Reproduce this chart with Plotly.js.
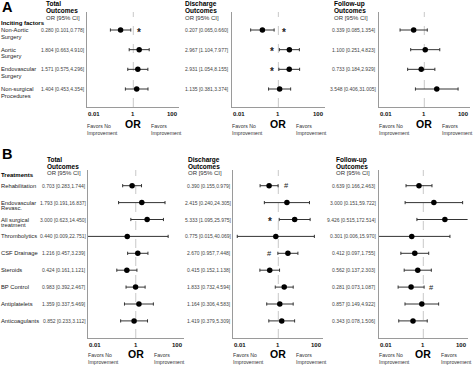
<!DOCTYPE html>
<html><head><meta charset="utf-8">
<script src="https://cdn.plot.ly/plotly-3.0.1.min.js"></script>
<style>html,body{margin:0;padding:0;background:#fff}#chart{width:474px;height:366px}</style>
</head><body><div id="chart"></div>
<script>
// ---------- DATA ----------
const factorsA = ["Non-Aortic<br>Surgery","Aortic<br>Surgery","Endovascular<br>Surgery","Non-surgical<br>Procedures"];
const totalA_or = [0.280,1.804,1.571,1.404];
const totalA_lo = [0.101,0.663,0.575,0.453];
const totalA_hi = [0.778,4.910,4.296,4.354];
const dischA_or = [0.207,2.967,2.931,1.135];
const dischA_lo = [0.065,1.104,1.054,0.381];
const dischA_hi = [0.660,7.977,8.155,3.374];
const follA_or  = [0.339,1.100,0.733,3.548];
const follA_lo  = [0.085,0.251,0.184,0.406];
const follA_hi  = [1.354,4.823,2.929,31.005];
const totalA_sig = ["*","","",""];
const dischA_sig = ["*","*","*",""];
const follA_sig  = ["","","",""];

const treatmentsB = ["Rehabilitation","Endovascular<br>Revasc.","All surgical<br>treatment","Thrombolytics","CSF Drainage","Steroids","BP Control","Antiplatelets","Anticoagulants"];
const totalB_or = [0.703,1.793,3.000,0.440,1.216,0.424,0.983,1.359,0.852];
const totalB_lo = [0.283,0.191,0.623,0.009,0.457,0.161,0.392,0.337,0.233];
const totalB_hi = [1.744,16.837,14.450,22.751,3.239,1.121,2.467,5.469,3.112];
const dischB_or = [0.390,2.415,5.333,0.775,2.670,0.415,1.833,1.164,1.419];
const dischB_lo = [0.155,0.240,1.095,0.015,0.957,0.152,0.732,0.306,0.379];
const dischB_hi = [0.979,24.305,25.975,40.069,7.448,1.138,4.594,4.583,5.309];
const follB_or  = [0.639,3.000,9.426,0.301,0.412,0.562,0.281,0.857,0.343];
const follB_lo  = [0.166,0.151,0.515,0.006,0.097,0.137,0.073,0.149,0.078];
const follB_hi  = [2.463,59.722,172.514,15.970,1.755,2.303,1.087,4.922,1.506];
const totalB_sig = ["","","","","","","","",""];
const dischB_sig = ["#","","*","","#","","","",""];
const follB_sig  = ["","","","","","","#","",""];

const columnTitles = [["Total","Outcomes"],["Discharge","Outcomes"],["Follow-up","Outcomes"]];
const ciHeader = "OR [95% CI]";
const tickVals = [0.01,1,100];
const tickText = ["0.01","1","100"];
const panelLetters = ["A","B"];
const groupTitles = ["Inciting factors","Treatments"];

// ---------- LAYOUT GEOMETRY ----------
const W=474,H=366;
const px=p=>p/W, py=p=>1-p/H;
const FONT="Arial, 'Liberation Sans', sans-serif";

const panels = [
  { letter:panelLetters[0], letterY:7.2, group:groupTitles[0], groupY:23.3,
    labels:factorsA, top:12, bottom:107, rowTop:30, rowStep:19.67, line2:6.7,
    headY:[3.8,10.5,17.5], tickY:114, favY:126, orY:124, sigShift:6,
    plots:[
      {or:totalA_or, lo:totalA_lo, hi:totalA_hi, sig:totalA_sig, x0:87.3, x1:179.3, txtR:86, headX:45},
      {or:dischA_or, lo:dischA_lo, hi:dischA_hi, sig:dischA_sig, x0:231.7, x1:325, txtR:230, headX:184},
      {or:follA_or,  lo:follA_lo,  hi:follA_hi,  sig:follA_sig,  x0:379, x1:469.6, txtR:377, headX:333}
    ]},
  { letter:panelLetters[1], letterY:154, group:groupTitles[1], groupY:175,
    labels:treatmentsB, top:170, bottom:338, rowTop:185.7, rowStep:16.9, line2:5.4,
    headY:[159.5,166,172.5], tickY:345, favY:355, orY:354, sigShift:8.5,
    plots:[
      {or:totalB_or, lo:totalB_lo, hi:totalB_hi, sig:totalB_sig, x0:88, x1:183.5, txtR:86.5, headX:46},
      {or:dischB_or, lo:dischB_lo, hi:dischB_hi, sig:dischB_sig, x0:233.3, x1:323.3, txtR:231.5, headX:187},
      {or:follB_or,  lo:follB_lo,  hi:follB_hi,  sig:follB_sig,  x0:379, x1:467.6, txtR:376.5, headX:335}
    ]}
];

const traces=[], annotations=[], shapes=[];
const layout = {
  width:W, height:H, margin:{l:0,r:0,t:0,b:0},
  paper_bgcolor:'#fff', plot_bgcolor:'rgba(0,0,0,0)',
  showlegend:false, font:{family:FONT, color:'#222'},
  annotations, shapes
};
function ann(o){ annotations.push(Object.assign({showarrow:false, xanchor:'center', yanchor:'middle', borderpad:0, font:{family:FONT,size:6,color:'#222'}}, o)); }

let k=0;
panels.forEach(P=>{
  const n=P.labels.length;
  const tpad=(P.rowTop-P.top)/P.rowStep;
  const bpad=(P.bottom-(P.rowTop+(n-1)*P.rowStep))/P.rowStep;
  ann({text:'<b>'+P.letter+'</b>', xref:'paper', yref:'paper', x:px(0.5), y:py(P.letterY), xanchor:'left', font:{family:FONT,size:14.5,color:'#000'}});
  ann({text:'<b>'+P.group+'</b>', xref:'paper', yref:'paper', x:0, y:py(P.groupY), xanchor:'left', font:{family:FONT,size:6,color:'#000'}});
  P.plots.forEach((pl,j)=>{
    k++;
    const xa='x'+(k===1?'':k), ya='y'+(k===1?'':k);
    const xk='xaxis'+(k===1?'':k), yk='yaxis'+(k===1?'':k);
    layout[xk]={type:'log', range:[-2,2], domain:[px(pl.x0),px(pl.x1)], anchor:ya,
      showline:true, linecolor:'#9a9a9a', linewidth:1, ticks:'', showticklabels:false,
      showgrid:false, zeroline:false, fixedrange:true};
    layout[yk]={range:[n-1+bpad,-tpad], domain:[py(P.bottom),py(P.top)], anchor:xa,
      showline:true, linecolor:'#9a9a9a', linewidth:1, ticks:'', showticklabels:false,
      showgrid:false, zeroline:false, fixedrange:true};
    shapes.push({type:'line', xref:xa, yref:ya+' domain', x0:1, x1:1, y0:0, y1:1,
      line:{color:'#c8c8c8', width:1, dash:'dash'}, layer:'below'});
    const ys=P.labels.map((_,i)=>i);
    traces.push({type:'scatter', mode:'markers', xaxis:xa, yaxis:ya, x:pl.or, y:ys,
      marker:{color:'#000', size:5.5},
      error_x:{type:'data', symmetric:false, array:pl.hi.map((h,i)=>h-pl.or[i]),
        arrayminus:pl.or.map((o,i)=>o-pl.lo[i]), color:'#333', thickness:1, width:1.6},
      hoverinfo:'skip'});
    pl.or.forEach((o,i)=>{
      ann({text:o.toFixed(3)+' ['+pl.lo[i].toFixed(3)+','+pl.hi[i].toFixed(3)+']',
        xref:'paper', yref:ya, x:px(pl.txtR), y:i, xanchor:'right',
        font:{family:FONT,size:5,color:'#444'}});
      const s=pl.sig[i];
      if(s){
        const right = o<1;
        ann({text: s==='*'?'<b>*</b>':s, xref:xa, yref:ya, x:0, y:i,
          xshift:(right?1:-1)*P.sigShift, yshift:s==='*'?-2:0,
          font:{family:FONT,size:s==='*'?10:7.5,color:'#222'}});
      }
    });
    const t=columnTitles[j];
    ann({text:'<b>'+t[0]+'</b>', xref:'paper', yref:'paper', x:px(pl.headX), y:py(P.headY[0]), xanchor:'left', font:{family:FONT,size:6.5,color:'#000'}});
    ann({text:'<b>'+t[1]+'</b>', xref:'paper', yref:'paper', x:px(pl.headX), y:py(P.headY[1]), xanchor:'left', font:{family:FONT,size:6.5,color:'#000'}});
    ann({text:ciHeader, xref:'paper', yref:'paper', x:px(pl.headX), y:py(P.headY[2]), xanchor:'left', font:{family:FONT,size:6,color:'#333'}});
    tickVals.forEach((v,ti)=>{
      ann({text:'<b>'+tickText[ti]+'</b>', xref:xa, yref:'paper', x:Math.log10(v), y:py(P.tickY),
        xanchor: ti===0?'left':(ti===tickVals.length-1?'right':'center'),
        font:{family:FONT,size:6,color:'#111'}});
    });
    ann({text:'Favors No', xref:xa, yref:'paper', x:-2, y:py(P.favY), xanchor:'left', xshift:-1, font:{family:FONT,size:5.2,color:'#333'}});
    ann({text:'Improvement', xref:xa, yref:'paper', x:-2, y:py(P.favY+6.5), xanchor:'left', xshift:-1, font:{family:FONT,size:5.2,color:'#333'}});
    ann({text:'<b>OR</b>', xref:xa, yref:'paper', x:0, y:py(P.orY), xanchor:'center', font:{family:FONT,size:10.5,color:'#000'}});
    ann({text:'Favors', xref:xa, yref:'paper', x:0, y:py(P.favY), xanchor:'left', xshift:17, font:{family:FONT,size:5.2,color:'#333'}});
    ann({text:'Improvement', xref:xa, yref:'paper', x:0, y:py(P.favY+6.5), xanchor:'left', xshift:17, font:{family:FONT,size:5.2,color:'#333'}});
  });
  const yFirst='y'+(k-2===1?'':(k-2));
  P.labels.forEach((lab,i)=>{
    lab.split('<br>').forEach((line,li)=>{
      ann({text:line, xref:'paper', yref:yFirst, x:0, y:i, yshift:-li*P.line2, xanchor:'left',
        font:{family:FONT,size:5.8,color:'#222'}});
    });
  });
});

Plotly.newPlot('chart', traces, layout, {displayModeBar:false, staticPlot:true});
</script>
</body></html>
